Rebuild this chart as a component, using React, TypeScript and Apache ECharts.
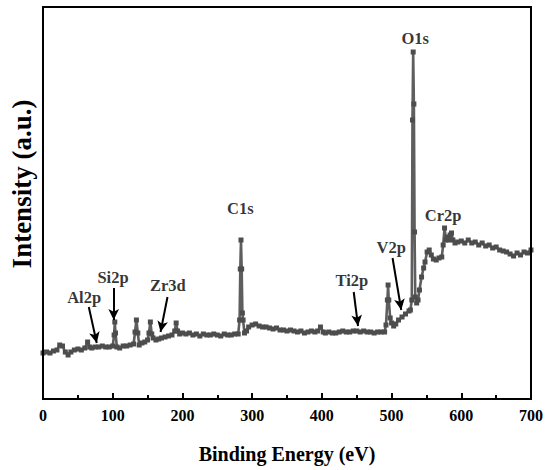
import React, { useEffect, useRef } from "react";
import * as echarts from "echarts";

// Binding energy (eV) and intensity (a.u.)
const energy = [
  0, 5, 10, 15, 20, 24, 28, 32, 36, 40, 45, 50, 55, 60, 64, 67, 70, 75, 80, 85, 90, 95, 100,
  102, 103, 104, 106, 110, 115, 120, 125, 130, 132, 134, 136, 138, 142, 146, 150, 152, 154, 156,
  158, 162, 166, 170, 175, 180, 185, 189, 191, 193, 196, 200, 205, 210, 215, 220, 225, 230, 235,
  240, 245, 250, 255, 260, 265, 270, 275, 280, 282, 283, 284, 285, 286, 287, 289, 292, 295, 300,
  305, 310, 315, 320, 325, 330, 335, 340, 345, 350, 355, 360, 365, 370, 375, 380, 385, 390, 394,
  398, 402, 405, 410, 415, 420, 425, 430, 435, 440, 445, 450, 455, 460, 465, 470, 475, 480, 485,
  490, 492, 494, 495, 496, 498, 500, 503, 506, 510, 515, 520, 525, 527, 529, 530, 531, 532, 533,
  534, 536, 538, 540, 543, 546, 548, 551, 554, 557, 560, 564, 568, 572, 574, 576, 578, 580, 582,
  584, 586, 588, 591, 595, 600, 605, 610, 615, 620, 625, 630, 635, 640, 645, 650, 655, 660, 665,
  670, 675, 680, 685, 690, 695, 700,
];
const intensity = [
  46, 47, 46, 48, 49, 54, 53, 47, 44, 47, 49, 50, 49, 51, 57, 52, 51, 52, 52, 53, 52, 52, 53,
  64, 77, 66, 52, 51, 53, 53, 54, 55, 67, 79, 66, 54, 56, 57, 59, 66, 77, 65,
  61, 59, 60, 61, 62, 63, 64, 68, 76, 68, 65, 66, 65, 66, 64, 65, 63, 65, 64,
  64, 65, 64, 63, 65, 64, 64, 65, 65, 79, 130, 159, 130, 86, 79, 66, 68, 72, 74,
  75, 73, 72, 72, 71, 70, 71, 69, 69, 68, 69, 68, 67, 68, 66, 67, 68, 67, 68,
  72, 67, 66, 67, 66, 66, 67, 68, 67, 67, 68, 68, 67, 68, 67, 67, 66, 67, 67,
  67, 74, 99, 114, 99, 81, 76, 73, 75, 79, 82, 85, 88, 89, 99, 279, 347, 295, 167,
  102, 96, 99, 109, 122, 131, 137, 147, 149, 144, 140, 139, 141, 142, 154, 171, 159, 162, 159,
  164, 166, 159, 156, 157, 158, 156, 159, 156, 157, 154, 156, 153, 154, 151, 152, 149, 148, 147,
  145, 143, 146, 144, 147, 146, 149,
];

// Peak annotations: label text, label position, arrow start and arrow tip (data units)
const peakNames = ["Al2p", "Si2p", "Zr3d", "C1s", "Ti2p", "V2p", "O1s", "Cr2p"];
const labelPos = [
  [59, 102], [100.4, 122], [179, 114], [283, 191], [443, 119], [499.6, 152], [534, 361], [574, 184],
];
const arrowFrom = [[65.7, 92], [101.4, 111], [178.6, 102], [445.7, 107], [501.4, 141]];
const arrowTo = [[77.1, 56], [101.4, 79], [168.6, 67], [451.9, 73], [513.9, 89]];

const xTicks = [0, 100, 200, 300, 400, 500, 600, 700];
const yRange = [0, 392];

const FONT = "Liberation Serif, Times New Roman, serif";
const W = 550;
const H = 470;
const G = { left: 43, right: 19, top: 7, bottom: 71 };

export default function App() {
  const ref = useRef<HTMLDivElement>(null);
  useEffect(() => {
    if (!ref.current) return;
    const chart = echarts.init(ref.current, undefined, { renderer: "svg" });
    const seriesData = energy.map((e, i) => [e, intensity[i]]);
    const labelData = peakNames.map((n, i) => ({ name: n, value: labelPos[i] }));
    const arrows: any[] = arrowFrom.map((f, i) => [{ coord: f }, { coord: arrowTo[i] }]);
    const xMax = xTicks[xTicks.length - 1];
    const xMin = xTicks[0];
    chart.setOption({
      animation: false,
      backgroundColor: "#ffffff",
      textStyle: { fontFamily: FONT },
      grid: { ...G, containLabel: false, show: true, borderColor: "#000", borderWidth: 2 },
      graphic: [
        {
          type: "text",
          silent: true,
          x: 22,
          y: 184,
          rotation: Math.PI / 2,
          style: {
            text: "Intensity (a.u.)",
            fontFamily: FONT,
            fontWeight: "bold",
            fontSize: 27,
            fill: "#000",
            align: "center",
            verticalAlign: "middle",
          },
        },
      ],
      xAxis: {
        type: "value",
        min: xMin,
        max: xMax,
        interval: 100,
        name: "Binding Energy (eV)",
        nameLocation: "middle",
        nameGap: 45,
        nameTextStyle: { fontFamily: FONT, fontWeight: "bold", fontSize: 20, color: "#000" },
        axisLine: { show: true, onZero: false, lineStyle: { color: "#000", width: 2 } },
        axisTick: { show: true, inside: true, length: 6, lineStyle: { color: "#000", width: 2 } },
        minorTick: { show: true, splitNumber: 2, length: 4, lineStyle: { color: "#000", width: 2 } },
        axisLabel: { fontFamily: FONT, fontWeight: "bold", fontSize: 16, color: "#000", margin: 8 },
        splitLine: { show: false },
      },
      yAxis: {
        type: "value",
        min: yRange[0],
        max: yRange[1],
        axisLine: { show: true, onZero: false, lineStyle: { color: "#000", width: 2 } },
        axisTick: { show: false },
        axisLabel: { show: false },
        splitLine: { show: false },
      },
      series: [
        {
          type: "line",
          data: seriesData,
          showSymbol: true,
          symbol: "rect",
          symbolSize: 5,
          itemStyle: { color: "#4d4d4d" },
          lineStyle: { color: "#5e5e5e", width: 2.6 },
          z: 3,
          markLine: {
            silent: true,
            symbol: ["none", "arrow"],
            symbolSize: [8, 11],
            label: { show: false },
            lineStyle: { color: "#000", width: 2, type: "solid" },
            data: arrows,
          },
        },
        {
          type: "scatter",
          data: labelData,
          symbolSize: 0,
          label: {
            show: true,
            position: "inside",
            formatter: (p: any) => p.name,
            fontFamily: FONT,
            fontWeight: "bold",
            fontSize: 16.5,
            color: "#000",
          },
          z: 5,
        },
      ],
    });
    return () => chart.dispose();
  }, []);
  return (
    <div style={{ position: "absolute", left: 0, top: 0, width: W, height: H, background: "#fff" }}>
      <div ref={ref} style={{ position: "absolute", left: 0, top: 0, width: W, height: H }} />
      <div
        style={{
          position: "absolute",
          left: G.left - 1,
          top: G.top - 1,
          width: W - G.left - G.right + 2,
          height: H - G.top - G.bottom + 2,
          boxSizing: "border-box",
          border: "2px solid #000",
          pointerEvents: "none",
        }}
      />
    </div>
  );
}
